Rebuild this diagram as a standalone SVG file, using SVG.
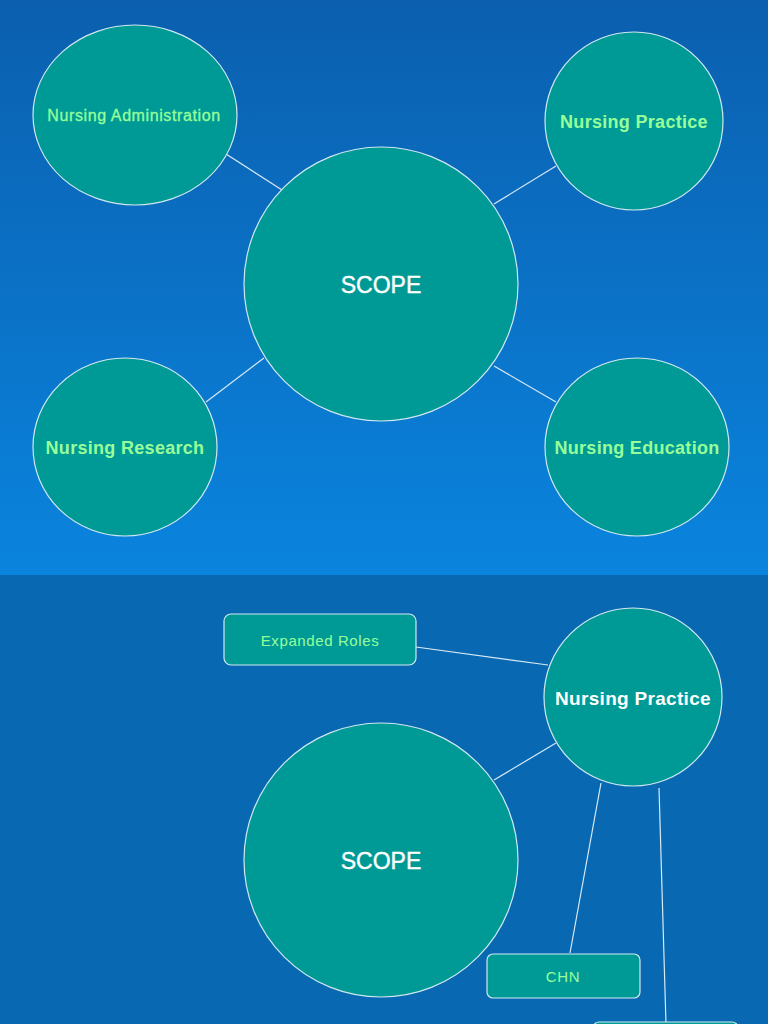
<svg xmlns="http://www.w3.org/2000/svg" width="768" height="1024" viewBox="0 0 768 1024">
<defs>
<linearGradient id="bg1" x1="0" y1="0" x2="0" y2="1">
<stop offset="0" stop-color="#0b5fae"/>
<stop offset="1" stop-color="#0a84de"/>
</linearGradient>
<style>
.n{fill:#009a96;stroke:#cfe8f0;stroke-width:1.2}
.c line{stroke:#d8eaf4;stroke-width:1.2}
.t{font-family:"Liberation Sans",Arial,sans-serif;font-weight:bold;fill:#99ff99;text-anchor:middle;letter-spacing:0.3px}
.r{font-family:"Liberation Sans",Arial,sans-serif;font-weight:normal;fill:#99ff99;text-anchor:middle;letter-spacing:0.6px}
.s{font-family:"Liberation Sans",Arial,sans-serif;fill:#ffffff;text-anchor:middle;font-size:23px;stroke:#ffffff;stroke-width:0.4}
</style>
</defs>
<rect x="0" y="0" width="768" height="575" fill="url(#bg1)"/>
<rect x="0" y="575" width="768" height="449" fill="#0868b2"/>
<g class="c">
<line x1="226" y1="154" x2="282" y2="190"/>
<line x1="494" y1="204" x2="556" y2="166"/>
<line x1="206" y1="402" x2="264" y2="358"/>
<line x1="494" y1="366" x2="556" y2="402"/>
<line x1="416" y1="647" x2="548" y2="665"/>
<line x1="494" y1="780" x2="556" y2="743"/>
<line x1="601" y1="783" x2="570" y2="953"/>
<line x1="659" y1="788" x2="666" y2="1024"/>
</g>
<g id="admin"><ellipse class="n" cx="135" cy="115" rx="102" ry="90"/><text class="r" x="134" y="121" font-size="16" letter-spacing="0.9" stroke="#99ff99" stroke-width="0.3">Nursing Administration</text></g>
<g id="practice1"><ellipse class="n" cx="634" cy="121" rx="89" ry="89"/><text class="t" x="634" y="128" font-size="18">Nursing Practice</text></g>
<g id="scope1"><circle class="n" cx="381" cy="284" r="137"/><text class="s" x="381" y="293">SCOPE</text></g>
<g id="research"><ellipse class="n" cx="125" cy="447" rx="92" ry="89"/><text class="t" x="125" y="454" font-size="18">Nursing Research</text></g>
<g id="education"><ellipse class="n" cx="637" cy="447" rx="92" ry="89"/><text class="t" x="637" y="454" font-size="18">Nursing Education</text></g>
<g id="expanded"><rect class="n" x="224" y="614" width="192" height="51" rx="7"/><text class="r" x="320" y="646" font-size="15">Expanded Roles</text></g>
<g id="practice2"><ellipse class="n" cx="633" cy="697" rx="89" ry="89"/><text class="t" x="633" y="705" font-size="19" style="fill:#ffffff">Nursing Practice</text></g>
<g id="scope2"><circle class="n" cx="381" cy="860" r="137"/><text class="s" x="381" y="869">SCOPE</text></g>
<g id="chn"><rect class="n" x="487" y="954" width="153" height="44" rx="6"/><text class="r" x="563" y="982" font-size="15">CHN</text></g>
<g id="partial"><rect class="n" x="593" y="1022" width="145" height="20" rx="6"/></g>
</svg>
